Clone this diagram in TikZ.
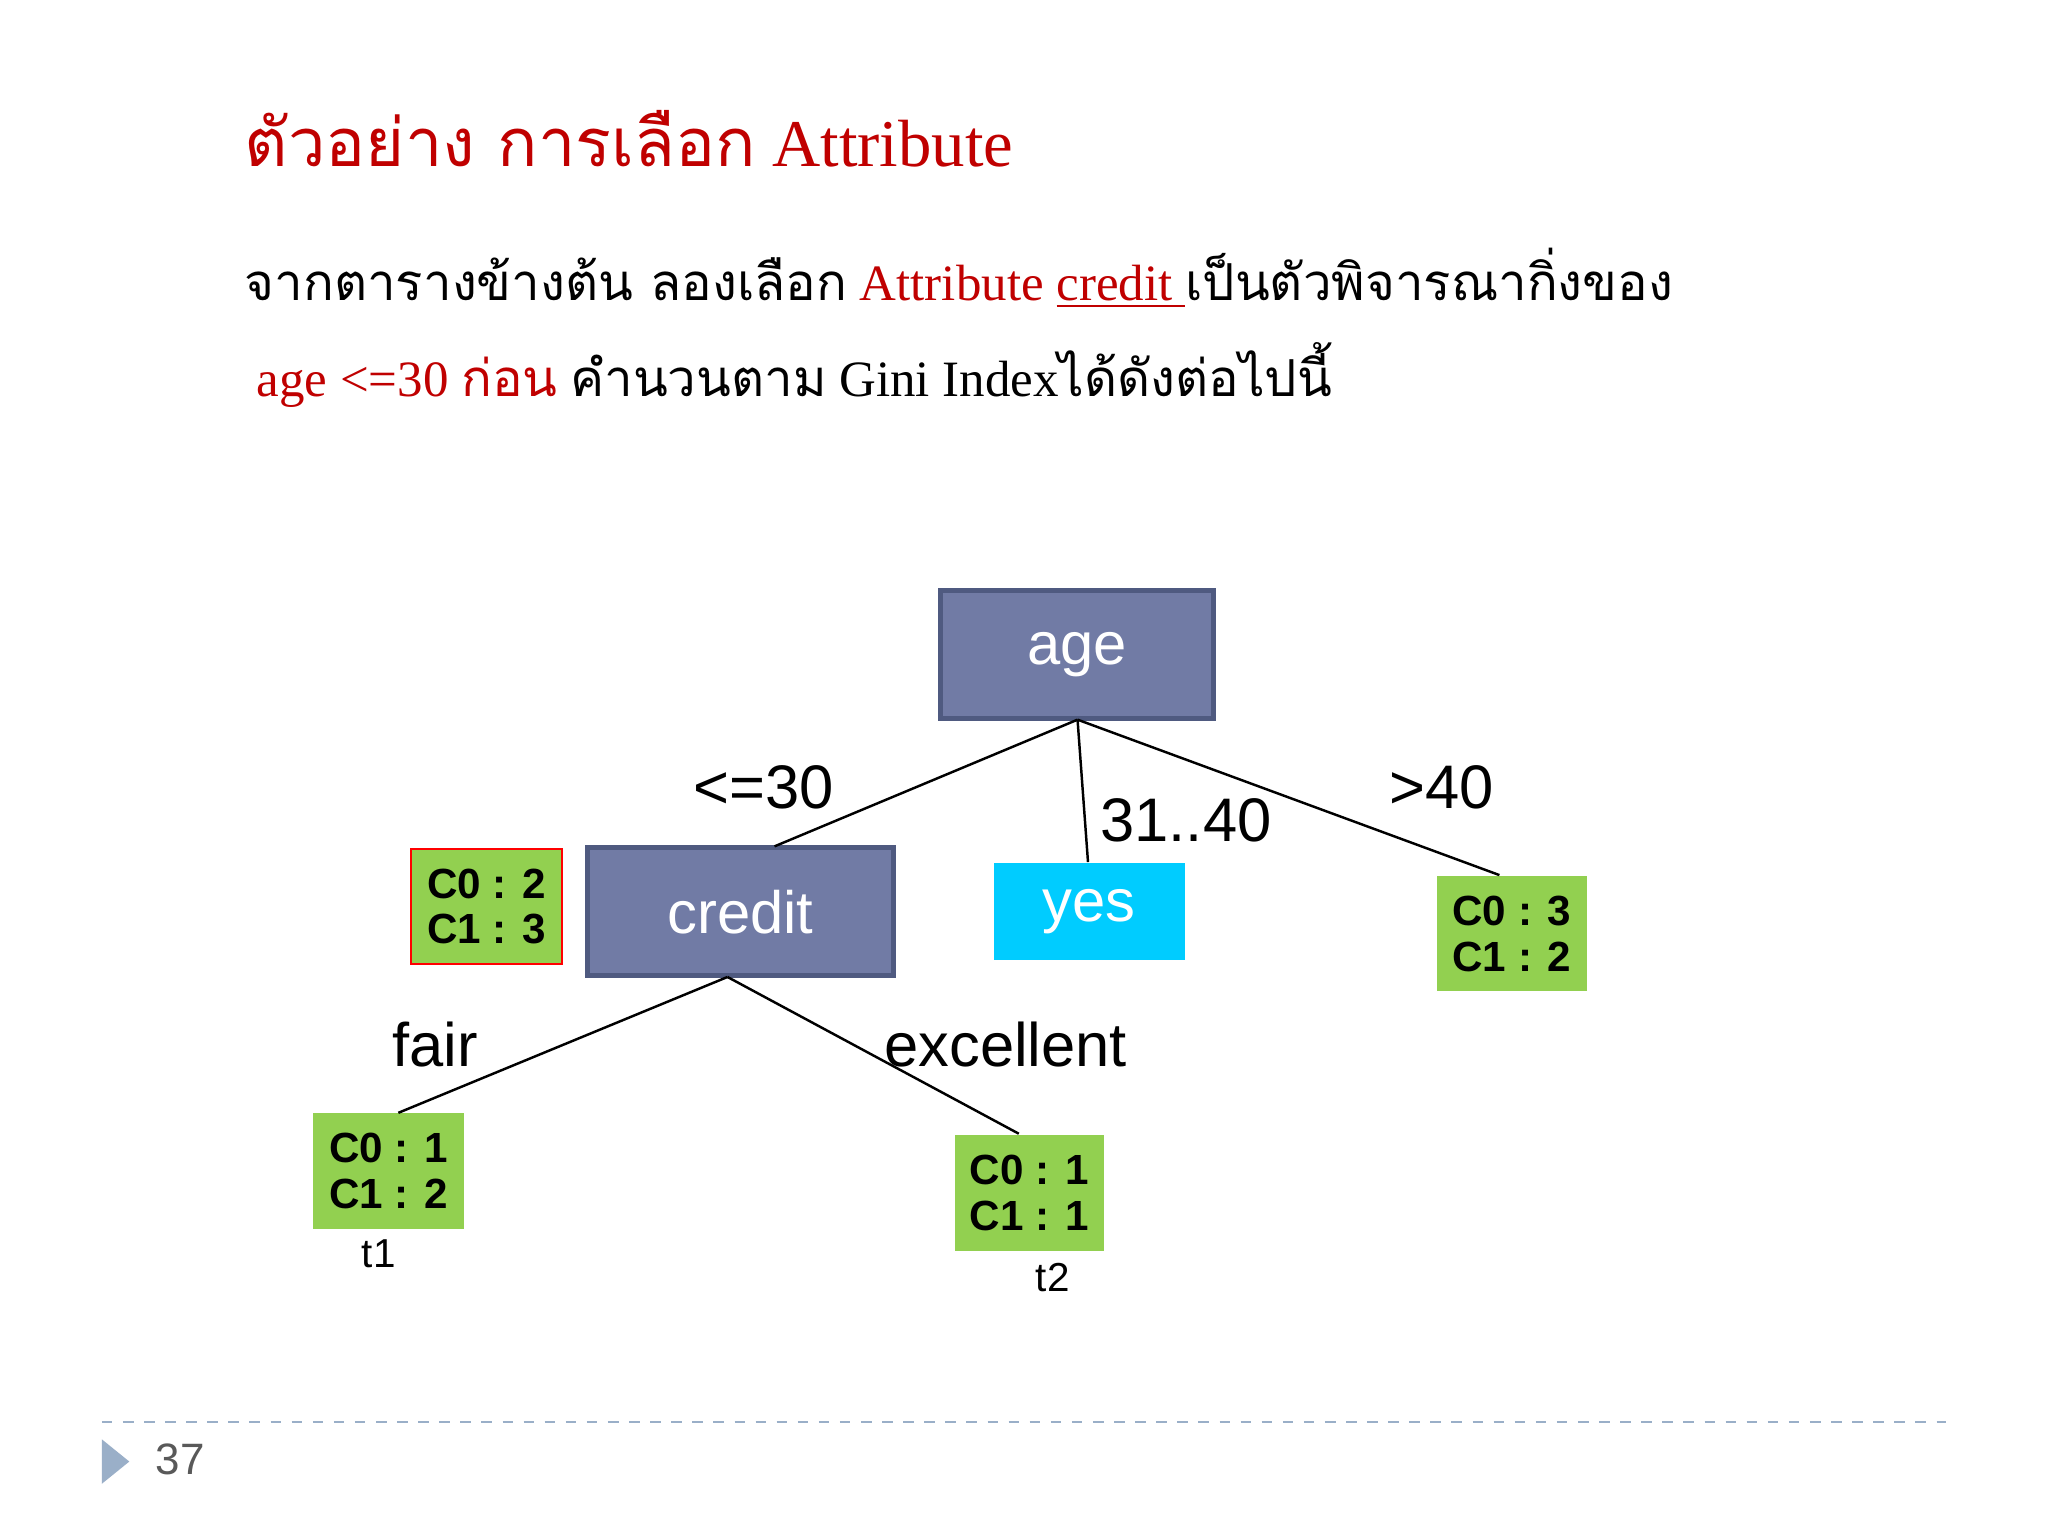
\documentclass[tikz,border=0pt]{standalone}
\usepackage{fontspec}
\setmainfont{Liberation Serif}
\setsansfont{Liberation Sans}
\newfontfamily\thaifont[Script=Thai]{Loma}
\newfontfamily\arialf{Liberation Sans}
\definecolor{ttred}{HTML}{C00000}
\definecolor{boxblue}{HTML}{717BA5}
\definecolor{boxedge}{HTML}{4F5A80}
\definecolor{lgreen}{HTML}{92D050}
\definecolor{cyanb}{HTML}{00CCFF}
\definecolor{lineblue}{HTML}{9AAFC8}
\begin{document}
\begin{tikzpicture}[x=0.01306cm,y=-0.01306cm,
  dark/.style={draw=boxedge,line width=1.5pt,fill=boxblue,text=white,font=\arialf\fontsize{17}{20}\selectfont,inner sep=0},
  cnt/.style={fill=lgreen,font=\arialf\bfseries\fontsize{12}{13}\selectfont,align=left,inner sep=0},
  lab/.style={font=\arialf\fontsize{17.5}{20}\selectfont,inner sep=0},
  edge/.style={draw=black,line width=0.7pt}]
\useasboundingbox (0,0) rectangle (1568,1176);
\fill[white] (0,0) rectangle (1568,1176);
\node[anchor=west,text=ttred,font=\fontsize{19}{22}\selectfont,inner sep=0] (title) at (187,106) {{\thaifont ตัวอย่าง การเลือก} Attribute};
\node[anchor=west,font=\fontsize{14.5}{18}\selectfont,inner sep=0] (l1) at (187,213) {{\thaifont จากตารางข้างต้น ลองเลือก} \textcolor{ttred}{Attribute \underline{credit }}{\thaifont เป็นตัวพิจารณากิ่งของ}};
\node[anchor=west,font=\fontsize{14.5}{18}\selectfont,inner sep=0] (l2) at (196,287) {\textcolor{ttred}{age <=30 {\thaifont ก่อน}} {\thaifont คำนวนตาม} Gini Index{\thaifont ได้ดังต่อไปนี้}};
\node[dark,minimum width=2.730cm,minimum height=1.280cm] (age) at (824.5,501) {age};
\node[dark,minimum width=3.056cm,minimum height=1.280cm] (credit) at (567,698) {credit};
\node[fill=cyanb,text=white,font=\arialf\fontsize{17}{20}\selectfont,minimum width=1.907cm,minimum height=0.966cm,inner sep=0] (yes) at (834,698) {yes};
\node[cnt,draw=red,line width=0.6pt,minimum width=1.502cm,minimum height=1.149cm] (c2) at (372.5,694) {C0 : 2\\C1 : 3};
\node[cnt,minimum width=1.502cm,minimum height=1.149cm] (c3) at (1157.5,715) {C0 : 3\\C1 : 2};
\node[cnt,minimum width=1.502cm,minimum height=1.162cm] (t1b) at (297.5,896.5) {C0 : 1\\C1 : 2};
\node[cnt,minimum width=1.489cm,minimum height=1.162cm] (t2b) at (788,913.5) {C0 : 1\\C1 : 1};
\coordinate (ab) at (825,551);
\coordinate (cb) at (557,748);
\draw[edge] (ab) -- (593,648);
\draw[edge] (ab) -- (833,660);
\draw[edge] (ab) -- (1148,670);
\draw[edge] (cb) -- (305,852);
\draw[edge] (cb) -- (780,868);
\node[lab] (l30) at (585,603) {<=30};
\node[lab] (l31) at (908,628) {31..40};
\node[lab] (l40) at (1104,603) {>40};
\node[lab] (lf) at (333,800) {fair};
\node[lab] (le) at (770,800) {excellent};
\node[font=\arialf\fontsize{11.5}{14}\selectfont] (t1) at (290,960) {t1};
\node[font=\arialf\fontsize{11.5}{14}\selectfont] (t2) at (806,978) {t2};
\draw[lineblue,dashed,line width=0.6pt] (78,1089) -- (1490,1089);
\fill[lineblue] (78,1102) -- (99,1119) -- (78,1136) -- cycle;
\node[font=\arialf\fontsize{12.5}{15}\selectfont,text=black!65] (pg) at (138,1117) {37};
\end{tikzpicture}
\end{document}
